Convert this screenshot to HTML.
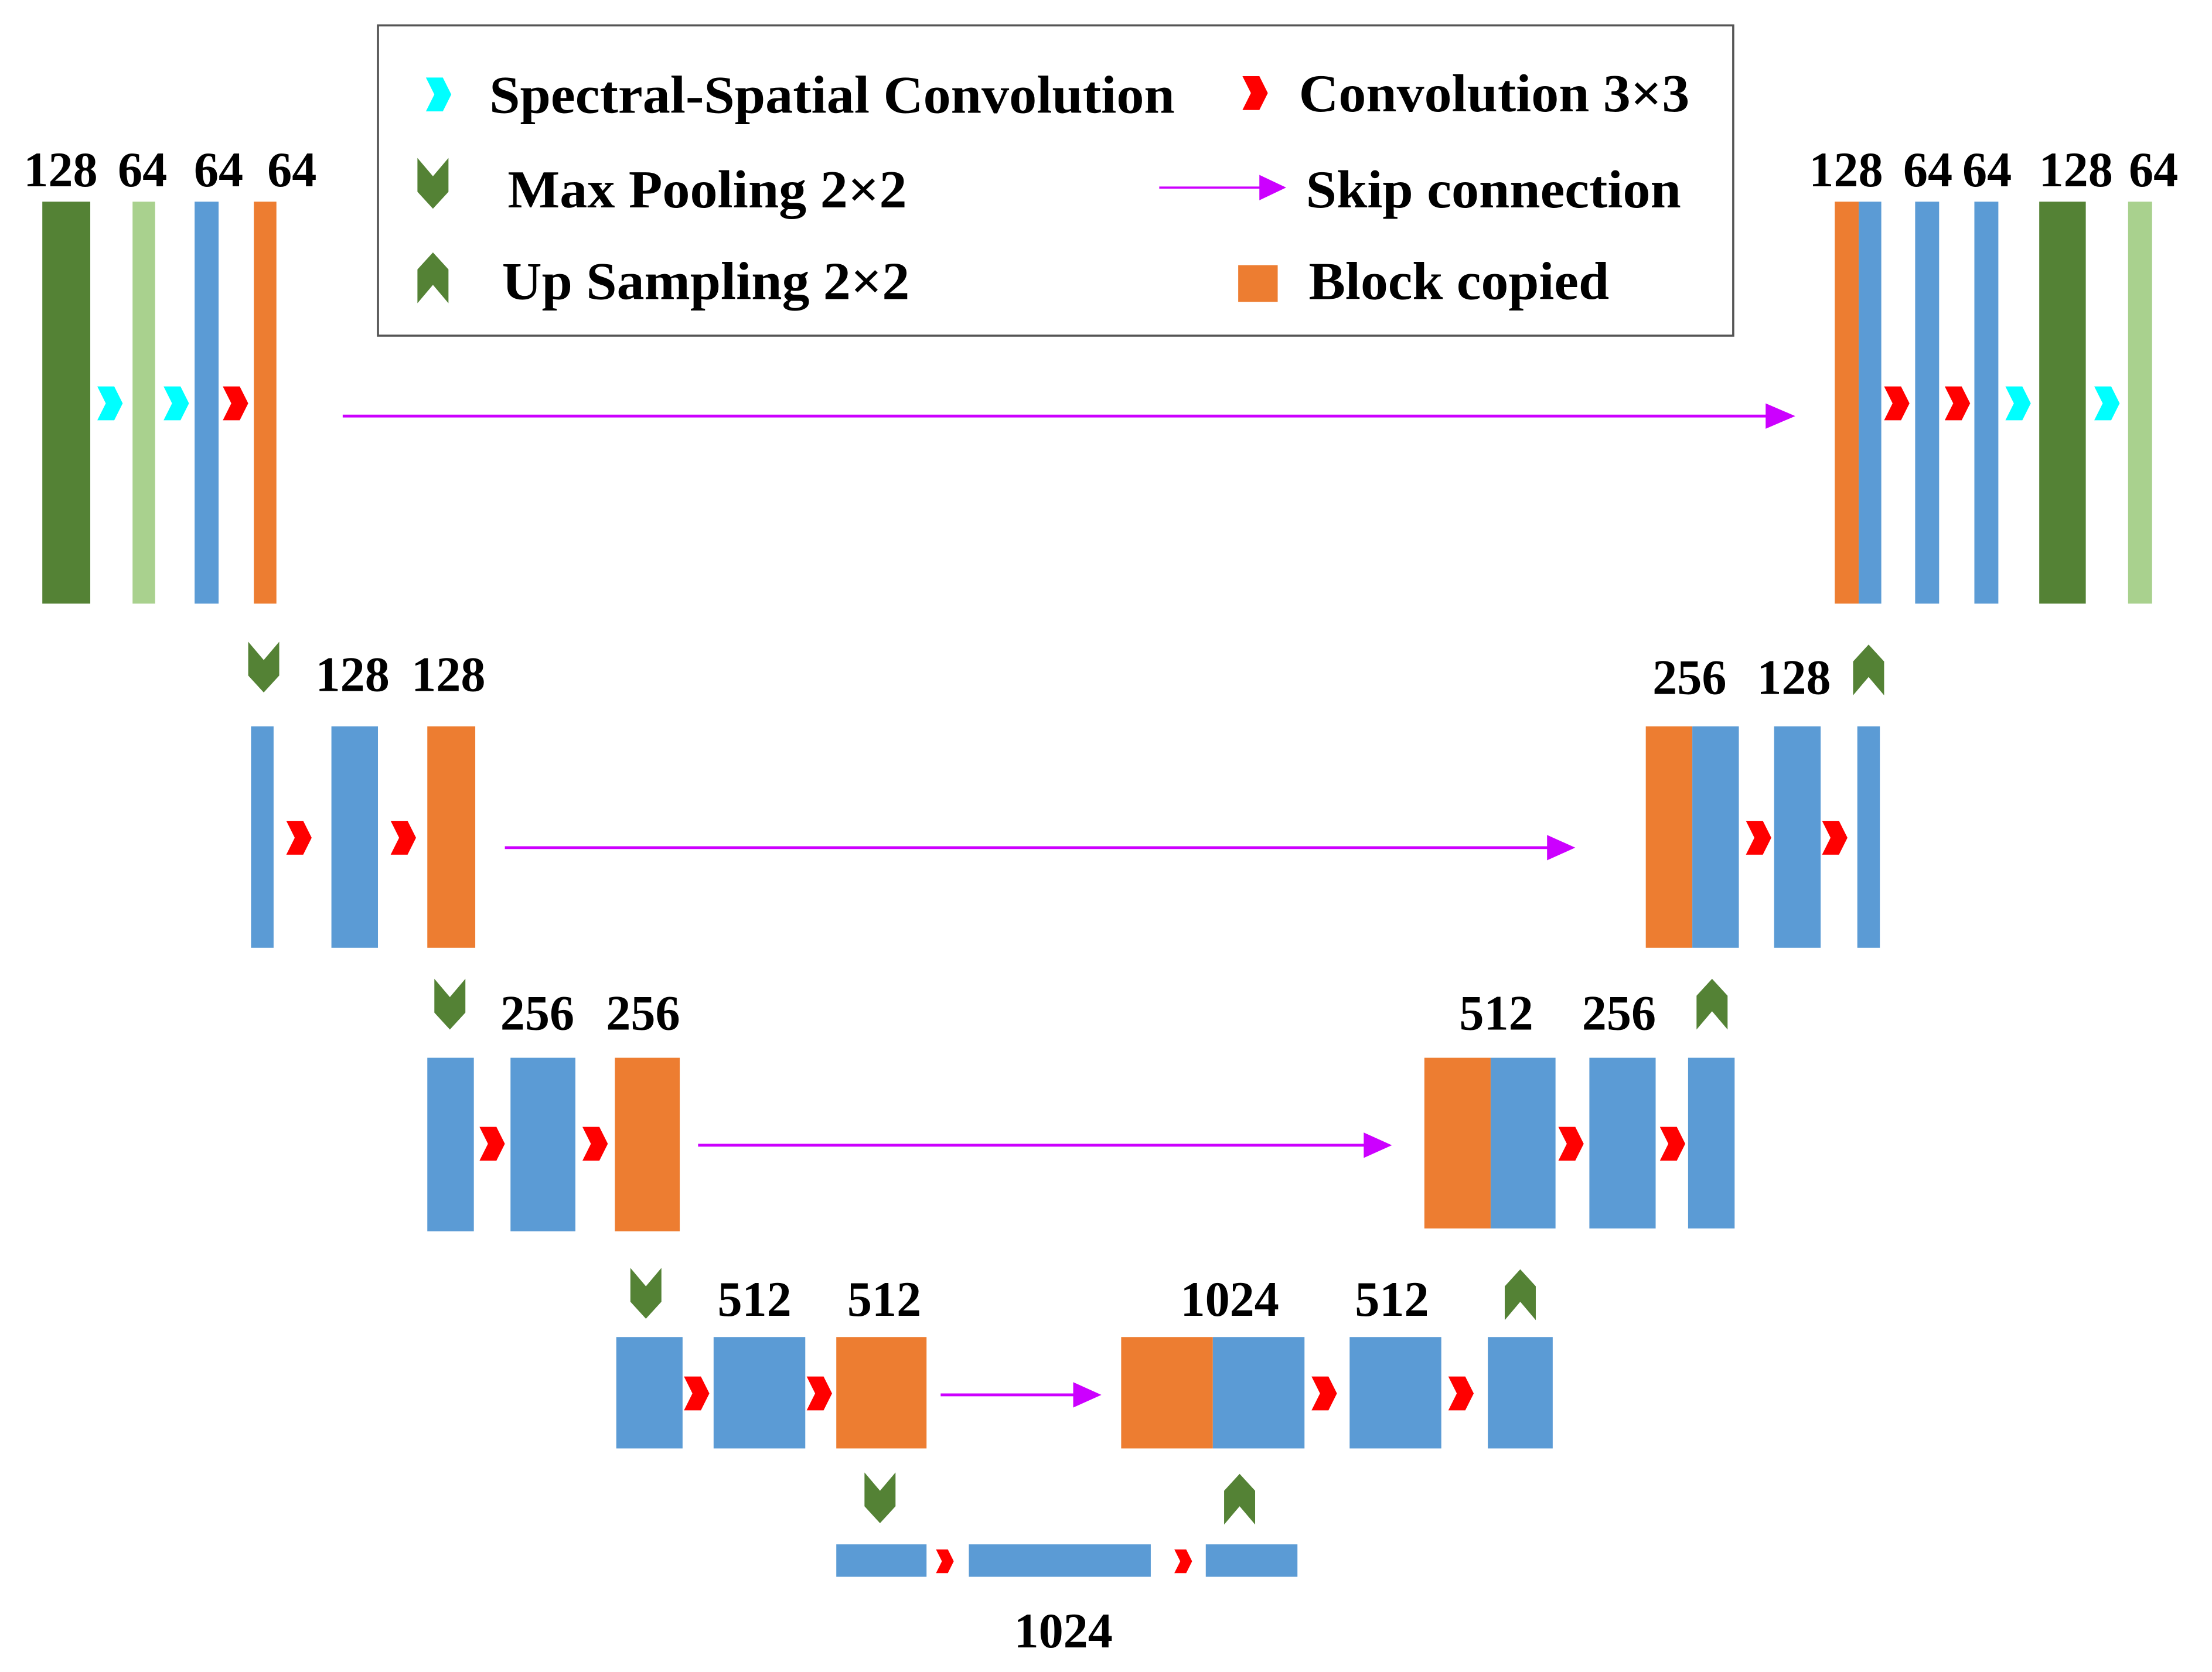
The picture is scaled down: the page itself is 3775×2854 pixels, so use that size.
<!DOCTYPE html>
<html><head><meta charset="utf-8"><style>
html,body{margin:0;padding:0;background:#fff;}
svg{display:block;}
text{font-family:"Liberation Serif",serif;font-weight:bold;fill:#000;}
</style></head><body>
<svg width="3775" height="2854" viewBox="0 0 1568.5 1185.5" preserveAspectRatio="none" xmlns="http://www.w3.org/2000/svg">
<defs>
<path id="chev" d="M-9,-12 L3,-12 L9,0 L3,12 L-9,12 L-3,0 Z"/>
<path id="down" d="M-11,-18 L0,-5 L11,-18 L11,6 L0,18 L-11,6 Z"/>
<path id="up" d="M-11,18 L0,5 L11,18 L11,-6 L0,-18 L-11,-6 Z"/>
</defs>
<!-- legend -->
<rect x="268" y="18" width="961" height="220" fill="#fff" stroke="#555" stroke-width="1.5"/>
<use href="#chev" x="311" y="67" fill="#00ffff"/>
<text x="347" y="80" font-size="38" textLength="486" lengthAdjust="spacingAndGlyphs">Spectral-Spatial Convolution</text>
<use href="#chev" x="890" y="66" fill="#ff0000"/>
<text x="921" y="79" font-size="38" textLength="277" lengthAdjust="spacingAndGlyphs">Convolution 3×3</text>
<use href="#down" x="307" y="130" fill="#548235"/>
<text x="360" y="147" font-size="38" textLength="283" lengthAdjust="spacingAndGlyphs">Max Pooling 2×2</text>
<line x1="822" y1="133" x2="895" y2="133" stroke="#cc00ff" stroke-width="1.5"/>
<path d="M893,124 L912,133 L893,142 Z" fill="#cc00ff"/>
<text x="926" y="147" font-size="38" textLength="266" lengthAdjust="spacingAndGlyphs">Skip connection</text>
<use href="#up" x="307" y="197" fill="#548235"/>
<text x="356" y="212" font-size="38" textLength="289" lengthAdjust="spacingAndGlyphs">Up Sampling 2×2</text>
<rect x="878" y="188" width="28" height="26" fill="#ed7d31"/>
<text x="928" y="212" font-size="38" textLength="213" lengthAdjust="spacingAndGlyphs">Block copied</text>

<g font-size="35" text-anchor="middle">
<!-- row1 left -->
<rect x="30" y="143" width="34" height="285" fill="#548235"/>
<rect x="94" y="143" width="16" height="285" fill="#a9d18e"/>
<rect x="138" y="143" width="17" height="285" fill="#5b9bd5"/>
<rect x="180" y="143" width="16" height="285" fill="#ed7d31"/>
<text x="43" y="132">128</text><text x="101" y="132">64</text><text x="155" y="132">64</text><text x="207" y="132">64</text>
<use href="#chev" x="78" y="286" fill="#00ffff"/><use href="#chev" x="125" y="286" fill="#00ffff"/><use href="#chev" x="167" y="286" fill="#ff0000"/>
<line x1="243" y1="295" x2="1255" y2="295" stroke="#cc00ff" stroke-width="2"/>
<path d="M1252,286 L1273,295 L1252,304 Z" fill="#cc00ff"/>
<!-- row1 right -->
<rect x="1301" y="143" width="17" height="285" fill="#ed7d31"/>
<rect x="1318" y="143" width="16" height="285" fill="#5b9bd5"/>
<rect x="1358" y="143" width="17" height="285" fill="#5b9bd5"/>
<rect x="1400" y="143" width="17" height="285" fill="#5b9bd5"/>
<rect x="1446" y="143" width="33" height="285" fill="#548235"/>
<rect x="1509" y="143" width="17" height="285" fill="#a9d18e"/>
<text x="1309" y="132">128</text><text x="1367" y="132">64</text><text x="1409" y="132">64</text><text x="1472" y="132">128</text><text x="1527" y="132">64</text>
<use href="#chev" x="1345" y="286" fill="#ff0000"/><use href="#chev" x="1388" y="286" fill="#ff0000"/><use href="#chev" x="1431" y="286" fill="#00ffff"/><use href="#chev" x="1494" y="286" fill="#00ffff"/>

<!-- row2 -->
<use href="#down" x="187" y="473" fill="#548235"/>
<rect x="178" y="515" width="16" height="157" fill="#5b9bd5"/>
<rect x="235" y="515" width="33" height="157" fill="#5b9bd5"/>
<rect x="303" y="515" width="34" height="157" fill="#ed7d31"/>
<text x="250" y="490">128</text><text x="318" y="490">128</text>
<use href="#chev" x="212" y="594" fill="#ff0000"/><use href="#chev" x="286" y="594" fill="#ff0000"/>
<line x1="358" y1="601" x2="1100" y2="601" stroke="#cc00ff" stroke-width="2"/>
<path d="M1097,592 L1117,601 L1097,610 Z" fill="#cc00ff"/>
<rect x="1167" y="515" width="33" height="157" fill="#ed7d31"/>
<rect x="1200" y="515" width="33" height="157" fill="#5b9bd5"/>
<rect x="1258" y="515" width="33" height="157" fill="#5b9bd5"/>
<rect x="1317" y="515" width="16" height="157" fill="#5b9bd5"/>
<text x="1198" y="492">256</text><text x="1272" y="492">128</text>
<use href="#up" x="1325" y="475" fill="#548235"/>
<use href="#chev" x="1247" y="594" fill="#ff0000"/><use href="#chev" x="1301" y="594" fill="#ff0000"/>

<!-- row3 -->
<use href="#down" x="319" y="712" fill="#548235"/>
<rect x="303" y="750" width="33" height="123" fill="#5b9bd5"/>
<rect x="362" y="750" width="46" height="123" fill="#5b9bd5"/>
<rect x="436" y="750" width="46" height="123" fill="#ed7d31"/>
<text x="381" y="730">256</text><text x="456" y="730">256</text>
<use href="#chev" x="349" y="811" fill="#ff0000"/><use href="#chev" x="422" y="811" fill="#ff0000"/>
<line x1="495" y1="812" x2="970" y2="812" stroke="#cc00ff" stroke-width="2"/>
<path d="M967,803 L987,812 L967,821 Z" fill="#cc00ff"/>
<rect x="1010" y="750" width="47" height="121" fill="#ed7d31"/>
<rect x="1057" y="750" width="46" height="121" fill="#5b9bd5"/>
<rect x="1127" y="750" width="47" height="121" fill="#5b9bd5"/>
<rect x="1197" y="750" width="33" height="121" fill="#5b9bd5"/>
<text x="1061" y="730">512</text><text x="1148" y="730">256</text>
<use href="#up" x="1214" y="712" fill="#548235"/>
<use href="#chev" x="1114" y="811" fill="#ff0000"/><use href="#chev" x="1186" y="811" fill="#ff0000"/>

<!-- row4 -->
<use href="#down" x="458" y="917" fill="#548235"/>
<rect x="437" y="948" width="47" height="79" fill="#5b9bd5"/>
<rect x="506" y="948" width="65" height="79" fill="#5b9bd5"/>
<rect x="593" y="948" width="64" height="79" fill="#ed7d31"/>
<text x="535" y="933">512</text><text x="627" y="933">512</text>
<use href="#chev" x="494" y="988" fill="#ff0000"/><use href="#chev" x="581" y="988" fill="#ff0000"/>
<line x1="667" y1="989" x2="764" y2="989" stroke="#cc00ff" stroke-width="2"/>
<path d="M761,980 L781,989 L761,998 Z" fill="#cc00ff"/>
<rect x="795" y="948" width="65" height="79" fill="#ed7d31"/>
<rect x="860" y="948" width="65" height="79" fill="#5b9bd5"/>
<rect x="957" y="948" width="65" height="79" fill="#5b9bd5"/>
<rect x="1055" y="948" width="46" height="79" fill="#5b9bd5"/>
<text x="872" y="933">1024</text><text x="987" y="933">512</text>
<use href="#up" x="1078" y="918" fill="#548235"/>
<use href="#chev" x="939" y="988" fill="#ff0000"/><use href="#chev" x="1036" y="988" fill="#ff0000"/>

<!-- row5 -->
<use href="#down" x="624" y="1062" fill="#548235"/>
<use href="#up" x="879" y="1063" fill="#548235"/>
<rect x="593" y="1095" width="64" height="23" fill="#5b9bd5"/>
<rect x="687" y="1095" width="129" height="23" fill="#5b9bd5"/>
<rect x="855" y="1095" width="65" height="23" fill="#5b9bd5"/>
<use href="#chev" transform="translate(670,1107) scale(0.7)" fill="#ff0000"/>
<use href="#chev" transform="translate(839,1107) scale(0.7)" fill="#ff0000"/>
<text x="754" y="1168">1024</text>
</g>
</svg>
</body></html>
